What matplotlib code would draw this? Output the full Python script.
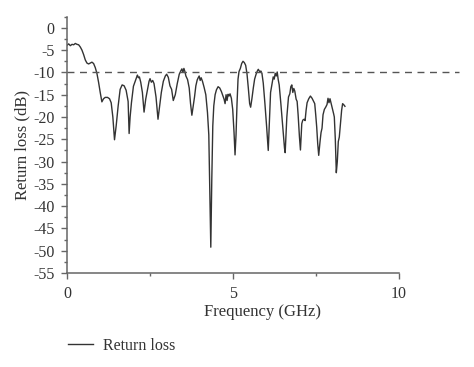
import matplotlib
matplotlib.use("Agg")
import matplotlib.pyplot as plt
from matplotlib.ticker import MultipleLocator

plt.rcParams["font.family"] = ["Liberation Serif", "DejaVu Serif"]
plt.rcParams["axes.unicode_minus"] = False

# frequency (GHz) and return loss (dB)
freq = [
    0.00, 0.05, 0.10, 0.15, 0.20, 0.25, 0.30, 0.35, 0.40, 0.45, 0.50, 0.55,
    0.60, 0.65, 0.70, 0.75, 0.80, 0.85, 0.90, 0.95, 1.00, 1.05, 1.10, 1.15,
    1.22, 1.28, 1.33, 1.38, 1.43, 1.48, 1.54, 1.60, 1.66, 1.72, 1.78, 1.84,
    1.87, 1.90, 1.94, 2.00, 2.06, 2.10, 2.12, 2.15, 2.18, 2.22, 2.27, 2.32,
    2.37, 2.42, 2.47, 2.50, 2.54, 2.58, 2.62, 2.68, 2.74, 2.79, 2.84, 2.90,
    2.96, 3.00, 3.05, 3.10, 3.15, 3.20, 3.26, 3.32, 3.38, 3.43, 3.46, 3.49,
    3.52, 3.55, 3.58, 3.63, 3.68, 3.72, 3.76, 3.80, 3.84, 3.88, 3.92, 3.95,
    3.98, 4.01, 4.04, 4.08, 4.13, 4.18, 4.23, 4.27, 4.31, 4.33, 4.36, 4.39,
    4.42, 4.46, 4.50, 4.55, 4.60, 4.65, 4.70, 4.73, 4.76, 4.79, 4.82, 4.85,
    4.88, 4.91, 4.95, 4.99, 5.03, 5.06, 5.09, 5.12, 5.15, 5.18, 5.22, 5.26,
    5.30, 5.34, 5.38, 5.42, 5.46, 5.50, 5.53, 5.57, 5.61, 5.65, 5.69, 5.73,
    5.76, 5.80, 5.84, 5.87, 5.91, 5.96, 6.01, 6.06, 6.10, 6.13, 6.17, 6.21,
    6.24, 6.27, 6.30, 6.33, 6.36, 6.39, 6.44, 6.50, 6.55, 6.57, 6.62, 6.67,
    6.71, 6.74, 6.77, 6.80, 6.83, 6.86, 6.90, 6.93, 6.96, 7.00, 7.03, 7.07,
    7.10, 7.14, 7.17, 7.20, 7.23, 7.28, 7.33, 7.38, 7.42, 7.46, 7.49, 7.52,
    7.55, 7.58, 7.62, 7.65, 7.68, 7.71, 7.75, 7.79, 7.83, 7.86, 7.89, 7.92,
    7.95, 7.99, 8.03, 8.05, 8.08, 8.11, 8.14, 8.17, 8.20, 8.23, 8.27, 8.30,
    8.34, 8.37,
]
return_loss = [
    -3.9, -3.6, -4.0, -3.7, -3.8, -3.5, -3.7, -3.8, -4.3, -5.0, -6.0, -7.2,
    -7.9, -8.1, -7.9, -7.7, -8.0, -8.9, -10.2, -12.2, -14.5, -16.6, -15.9, -15.6,
    -15.6, -15.9, -16.8, -20.0, -25.1, -22.0, -17.5, -13.8, -12.8, -13.0, -14.0, -16.5,
    -23.7, -20.0, -16.8, -13.1, -11.8, -11.0, -10.6, -11.2, -11.0, -12.2, -14.5, -18.9,
    -16.0, -14.0, -12.0, -11.4, -12.2, -11.8, -12.5, -15.5, -20.5, -17.5, -14.5, -12.0,
    -10.8, -10.4, -11.1, -13.0, -13.8, -16.3, -15.0, -12.5, -10.4, -9.6, -9.2, -10.0,
    -9.1, -9.8, -10.8, -11.6, -13.5, -17.0, -19.6, -17.5, -15.5, -13.0, -11.7, -11.2,
    -10.8, -11.8, -11.2, -12.0, -13.4, -15.0, -19.0, -24.0, -40.0, -49.2, -34.0, -22.0,
    -17.5, -15.0, -13.9, -13.2, -13.5, -14.3, -15.4, -16.0, -17.0, -15.0, -16.3, -14.9,
    -15.3, -14.8, -15.8, -18.3, -23.5, -28.5, -24.0, -17.0, -11.5, -9.8, -9.1, -8.0,
    -7.5, -7.8, -8.4, -10.3, -13.5, -17.0, -17.8, -15.8, -13.5, -11.5, -10.5, -9.7,
    -9.3, -9.8, -9.7, -10.2, -12.4, -17.0, -22.0, -27.5, -20.0, -14.5, -12.8, -11.0,
    -11.5, -10.2, -10.8, -9.9, -11.6, -12.8, -17.0, -22.5, -27.0, -28.0, -20.0, -15.5,
    -14.8, -13.2, -12.8, -14.5, -13.6, -14.2, -16.0, -16.5, -19.5, -24.5, -27.4, -21.5,
    -20.7, -20.5, -20.8, -18.5, -16.8, -15.9, -15.3, -15.8, -16.4, -17.0, -19.5, -22.3,
    -26.0, -28.6, -25.5, -23.5, -22.5, -19.5, -18.3, -17.8, -17.2, -15.8, -16.8, -15.9,
    -16.8, -18.0, -19.3, -20.0, -25.0, -32.5, -30.0, -25.5, -24.5, -22.0, -18.5, -17.0,
    -17.3, -17.6,
]

threshold_db = -10
threshold_span = [0, 11.8]

fig = plt.figure(figsize=(4.74, 3.67), dpi=100)
ax = fig.add_axes([0.1414, 0.256, 0.8266, 0.6985])

ax.plot(freq, return_loss, color="#333333", lw=1.0, label="Return loss")
ax.plot(threshold_span, [threshold_db, threshold_db], color="#555555",
        lw=1.0, ls=(0, (5, 4)), clip_on=False)

ax.set_xlim(0, 11.8)
ax.set_ylim(-55, 2.5)
ax.spines["top"].set_visible(False)
ax.spines["right"].set_visible(False)
ax.spines["bottom"].set_bounds(0, 10)
for s in ("left", "bottom"):
    ax.spines[s].set_color("#666666")
    ax.spines[s].set_linewidth(1.1)

ax.set_xticks([0, 5, 10])
ax.set_xticks([2.5, 7.5], minor=True)
ax.set_yticks(range(-55, 1, 5))
ax.yaxis.set_minor_locator(MultipleLocator(2.5))
ax.tick_params(which="major", direction="out", length=4, width=1,
               color="#666666", labelsize=11.5, labelcolor="#333333", pad=5)
ax.tick_params(which="minor", direction="out", length=2.5, width=1,
               color="#666666")

ax.set_xlabel("Frequency (GHz)", fontsize=12, color="#333333", labelpad=2)
ax.set_ylabel("Return loss (dB)", fontsize=12, color="#333333", labelpad=2)

fig.legend(loc="center left", bbox_to_anchor=(0.143, 0.057), frameon=False,
           borderaxespad=0, borderpad=0, handlelength=1.6, handletextpad=0.6,
           fontsize=11.5, labelcolor="#333333")

fig.savefig("out.png", dpi=100)
